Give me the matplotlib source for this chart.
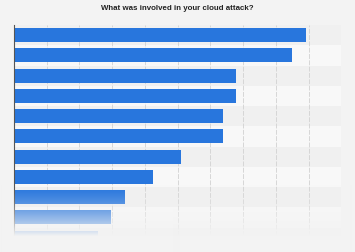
import numpy as np
import matplotlib
matplotlib.use("Agg")
import matplotlib.pyplot as plt

title = "What was involved in your cloud attack?"
categories = ["A", "B", "C", "D", "E", "F", "G", "H", "I", "J", "K"]
values = [44.6, 42.5, 33.9, 33.9, 31.9, 31.9, 25.5, 21.2, 17.0, 14.8, 12.8]
x_max = 50
x_step = 5

W, H = 355, 253
bg = "#f3f3f3"
fig = plt.figure(figsize=(W / 100, H / 100), dpi=100)
fig.patch.set_facecolor(bg)

ax = fig.add_axes([14 / W, 1 - 248.75 / H, (341.3 - 14) / W, (248.75 - 26) / H])
ax.set_facecolor(bg)
n = len(categories)
y = np.arange(n)
for i in range(n):
    ax.axhspan(i - 0.5, i + 0.5, color="#f0f0f0" if i % 2 == 0 else "#f8f8f8", zorder=0, lw=0)
for gx in np.arange(x_step, x_max + 0.1, x_step):
    ax.axvline(gx, color="#d6d6d6", lw=0.7, ls=(0, (5, 1.5)), zorder=1)
ax.barh(y, values, height=0.69, color="#2876dd", zorder=2)
ax.set_xlim(0, x_max)
ax.set_ylim(n - 0.5, -0.5)
ax.set_xticks([])
ax.set_yticks([])
for s in ["top", "right", "bottom"]:
    ax.spines[s].set_visible(False)
ax.spines["left"].set_color("#555555")
ax.spines["left"].set_linewidth(0.8)
ax.spines["left"].set_zorder(3)

fig.text(0.5, 1 - 8.5 / H, title, ha="center", va="center",
         fontsize=5.7, fontweight="bold", family="Liberation Sans", color="#222222")

# fade overlay
ov = fig.add_axes([0, 0, 1, 1], zorder=10)
ov.set_xlim(0, W)
ov.set_ylim(H, 0)
ov.axis("off")
ys = np.arange(H) + 0.5
alpha = np.clip((ys - 185) / 52, 0, 1) ** 1.5
rgb = np.array(matplotlib.colors.to_rgb(bg))
img = np.zeros((H, 1, 4))
img[:, 0, :3] = rgb
img[:, 0, 3] = alpha
ov.imshow(img, extent=[0, W, H, 0], aspect="auto", interpolation="bilinear")
ov.set_xlim(0, W)
ov.set_ylim(H, 0)

fig.savefig("out.png", dpi=100, facecolor=bg)
